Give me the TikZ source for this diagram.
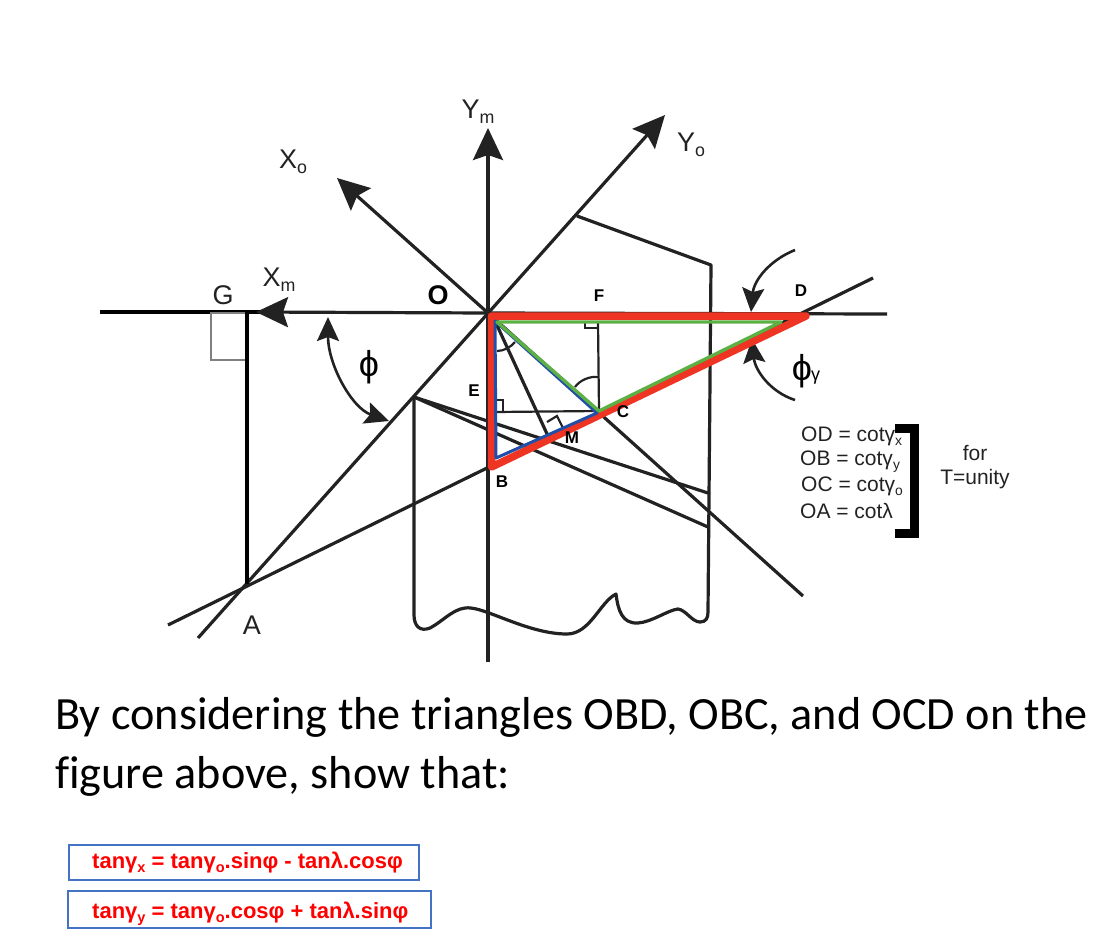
\documentclass[tikz,border=0pt]{standalone}
\usepackage{fontspec}
\setmainfont{Liberation Sans}
\newfontfamily\notefont{Carlito}
\usetikzlibrary{arrows.meta}

\definecolor{inkline}{HTML}{222222}
\definecolor{redside}{HTML}{EE3524}
\definecolor{greenside}{HTML}{5DB043}
\definecolor{blueside}{HTML}{1F4FA8}
\definecolor{boxblue}{HTML}{4472C4}

\newcommand{\lowsub}[1]{\raisebox{-0.2em}{\fontsize{0.66em}{0.66em}\selectfont #1}}

\tikzset{
  fig line/.style={draw=inkline, line width=3.2pt},
  thin line/.style={draw=inkline, line width=2.2pt},
  bold line/.style={draw=black, line width=4.2pt},
  axis/.style={fig line, -{Stealth[length=32pt, width=30pt, inset=5pt]}},
  angle arrow/.style={thin line, line width=2.6pt, {Stealth[length=24pt, width=22pt, inset=4pt]}-{Stealth[length=24pt, width=22pt, inset=4pt]}},
  angle head/.style={thin line, line width=2.6pt, -{Stealth[length=24pt, width=22pt, inset=4pt]}},
  axis label/.style={inner sep=0pt, font=\fontsize{27}{27}\selectfont, text=inkline},
  point label/.style={inner sep=0pt, font=\fontsize{17}{17}\selectfont\bfseries},
  def label/.style={inner sep=0pt, anchor=base west, font=\fontsize{21}{21}\selectfont, text=inkline},
  phi label/.style={inner sep=0pt, font=\fontsize{36}{36}\selectfont},
  eq frame/.style={draw=boxblue, line width=1.4pt},
  eq label/.style={inner sep=0pt, anchor=base west, text=red, font=\fontsize{22}{22}\selectfont\bfseries}
}

\begin{document}
\begin{tikzpicture}[x=1pt, y=-1pt]
  \useasboundingbox (0,0) rectangle (1102,943);

  \coordinate (O) at (488,313);
  \coordinate (A) at (247,584);
  \coordinate (B) at (491.5,467);
  \coordinate (C) at (599,411);
  \coordinate (Cb) at (597,413);
  \coordinate (D) at (806,316);
  \coordinate (R) at (491.5,316);
  \coordinate (Gl) at (100,312);
  \coordinate (G) at (247,312);
  \coordinate (Xmtip) at (256,312);
  \coordinate (Xotip) at (337,178);
  \coordinate (Ymtip) at (488,128);
  \coordinate (Ymend) at (488,662);
  \coordinate (Yotip) at (665,115);
  \coordinate (Yoend) at (198,638);
  \coordinate (Aend) at (168,625);
  \coordinate (Dend) at (873,278);
  \coordinate (Hend) at (887,314);
  \coordinate (Cend) at (803,596);
  \coordinate (T) at (414,397);
  \coordinate (Tup) at (577,216);
  \coordinate (Tcorner) at (711,265);
  \coordinate (Ta) at (708,493);
  \coordinate (Tb) at (708,527);
  \coordinate (F) at (598,322);
  \coordinate (E) at (495,412);
  \coordinate (M) at (548,436);
  \coordinate (Bl) at (495,321);
  \coordinate (Gi) at (497,322);
  \coordinate (Gd) at (781,322);
  \coordinate (Bi) at (496,458);

  % axes
  \draw[axis] (O) -- (Xotip);
  \draw[axis] (Ymend) -- (Ymtip);
  \draw[axis] (Yoend) -- (Yotip);
  \draw[bold line] (Gl) -- (260,312);
  \draw[bold line] (G) -- (A);
  \draw[axis] (O) -- (Xmtip);
  \draw[fig line] (O) -- (Hend);
  \draw[fig line] (Aend) -- (Dend);
  \draw[fig line] (O) -- (Cend);

  % tool outline
  \draw[fig line, line join=round] (T) -- (414,615) .. controls (414,626) and (420,632) .. (430,628)
    .. controls (445,620) and (455,606) .. (471,608) .. controls (490,610) and (530,634) .. (567,634)
    .. controls (590,634) and (600,602) .. (616,594) .. controls (618,610) and (622,624) .. (638,623)
    .. controls (652,622) and (668,610) .. (678,609) .. controls (686,610) and (692,622) .. (700,622)
    .. controls (706,622) and (708,618) .. (708,612) -- (Tcorner) -- (Tup);
  \draw[fig line] (T) -- (Ta);
  \draw[fig line] (T) -- (Tb);

  % construction lines
  \draw[thin line] (F) -- (C);
  \draw[thin line] (E) -- (C);
  \draw[fig line] (Bl) -- (M);
  \draw[thin line, line width=1.6pt, draw=gray] (245,313) -- (211,313) -- (211,360) -- (245,360);
  \draw[thin line] (585,322) -- (585,328) -- (598,328);
  \draw[thin line] (495,400) -- (503,400) -- (503,412);
  \draw[thin line] (547,422) -- (557,416) -- (563,428);
  \draw[thin line] (497,351) .. controls (504,351) and (511,347) .. (515,342);
  \draw[thin line] (575,387) .. controls (580,380) and (590,376) .. (598,377);

  % angle arrows
  \draw[angle arrow] (328,317) .. controls (328,365) and (352,408) .. (389,421);
  \draw[angle head] (795,250) .. controls (770,260) and (754,280) .. (751,312);
  \draw[angle head] (795,400) .. controls (770,392) and (755,370) .. (752,339);

  % triangles
  \draw[redside, line width=7.5pt, line join=round, line cap=round] (R) -- (D) -- (B) -- cycle;
  \draw[blueside, line width=3pt, line join=round] (Bl) -- (Cb) -- (Bi) -- cycle;
  \draw[greenside, line width=3.4pt, line join=round] (Gi) -- (Gd) -- (C) -- cycle;

  % right bracket
  \draw[black, line width=9pt, line join=miter] (895,428) -- (914,428) -- (914,533) -- (895,533);

  % labels
  \node (Xolabel) [axis label] at (293,162) {X\lowsub{o}};
  \node (Ymlabel) [axis label] at (478,112) {Y\lowsub{m}};
  \node (Yolabel) [axis label] at (691,145) {Y\lowsub{o}};
  \node (Xmlabel) [axis label] at (279,280) {X\lowsub{m}};
  \node (Glabel) [axis label] at (223,295) {G};
  \node (Alabel) [axis label] at (252,625) {A};
  \node (Olabel) [axis label, font=\fontsize{27}{27}\selectfont\bfseries, text=black] at (438,295) {O};
  \node (Flabel) [point label] at (599,296) {F};
  \node (Dlabel) [point label] at (801,291) {D};
  \node (Elabel) [point label] at (474,391) {E};
  \node (Clabel) [point label] at (623,412) {C};
  \node (Mlabel) [point label] at (572,438) {M};
  \node (Blabel) [point label] at (502,482) {B};
  \node (philabel) [phi label] at (369,367) {ϕ};
  \node (phiglabel) [phi label] at (806,371) {ϕ\kern-1pt{\fontsize{18}{18}\selectfont γ}};

  \node (ODlabel) [def label] at (801,441) {OD = cotγ\lowsub{x}};
  \node (OBlabel) [def label] at (800,465) {OB = cotγ\lowsub{y}};
  \node (OClabel) [def label] at (801,491) {OC = cotγ\lowsub{o}};
  \node (OAlabel) [def label] at (800,518) {OA = cotλ};
  \node (unitylabel) [inner sep=0pt, align=center, font=\fontsize{21}{24}\selectfont, text=inkline] at (975,467) {for\\T=unity};

  \node (notelabel) [inner sep=0pt, anchor=north west, align=left, font=\fontsize{46.2}{59}\selectfont\notefont] at (55,697) {By considering the triangles OBD, OBC, and OCD on the\\f\kern0pt igure above, show that:};

  \draw[eq frame] (69,845) rectangle (419,880);
  \draw[eq frame] (68,891) rectangle (431,928);
  \node (eqx) [eq label] at (92,868) {tanγ\lowsub{x} = tanγ\lowsub{o}.sinφ - tanλ.cosφ};
  \node (eqy) [eq label] at (92,918) {tanγ\lowsub{y} = tanγ\lowsub{o}.cosφ + tanλ.sinφ};
\end{tikzpicture}
\end{document}
